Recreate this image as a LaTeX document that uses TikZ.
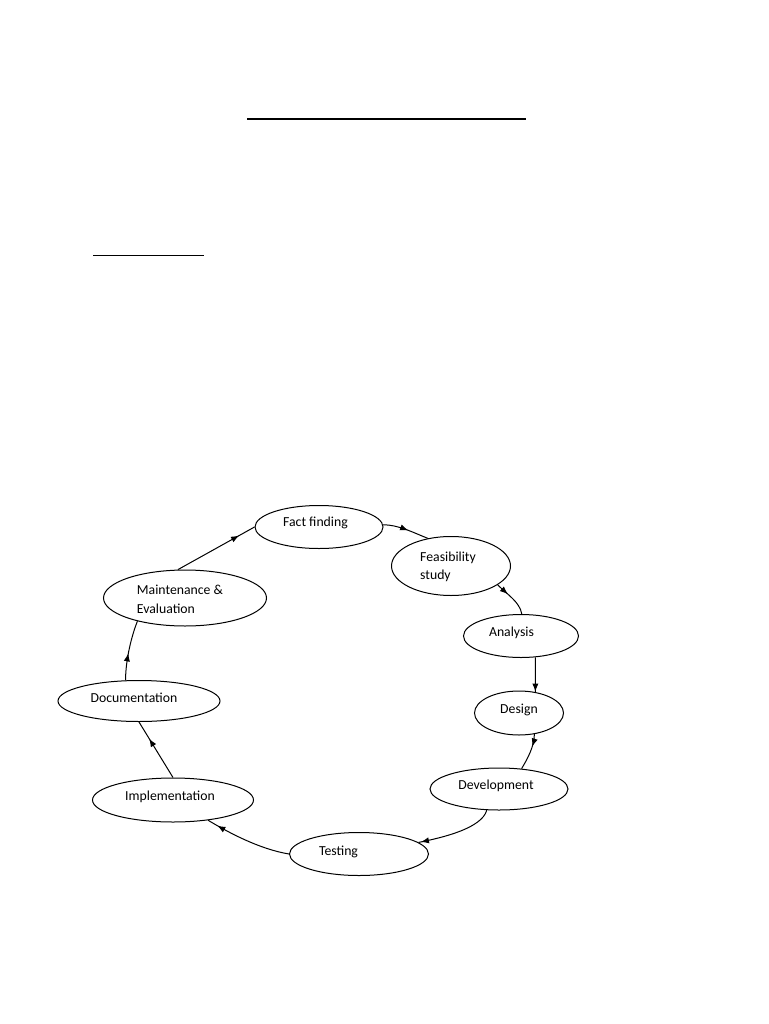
\documentclass[tikz,border=0pt]{standalone}
\usepackage{fontspec}
\setmainfont{Carlito}
\usetikzlibrary{shapes,arrows.meta,decorations.markings}
\newcommand{\stagefont}{\fontsize{11pt}{14.8pt}\selectfont}

\begin{document}
\begin{tikzpicture}[x=0.8pt, y=-0.8pt,
    stage/.style ={ellipse, draw=black, line width=0.8pt, fill=white,
      inner sep=0pt},
    every label/.style ={font=\stagefont, align=left, inner sep=0pt},
    flowline/.style ={draw, line width=0.8pt, postaction={decorate},
      decoration={markings, mark=at position #1 with
        {\arrow{Latex[length=6.5pt, width=5pt]}}}}]
    \useasboundingbox (0,0) rectangle (768,1024);
    % underlines at the top of the page
    \draw [line width=2pt] (247,119) -- (526,119);
    \draw [line width=0.8pt] (93,255) -- (204,255);
    % the stages of the cycle, clockwise from the top
    \node [stage, minimum width=102.4pt, minimum height=34.4pt,
      label={[xshift=-2.8pt, yshift=3.2pt]center:Fact finding}] (fact) at (319,527) {};
    \node [stage, minimum width=95.2pt, minimum height=47.2pt,
      label={[xshift=-2.4pt, yshift=-0.8pt]center:Feasibility\\study}] (feas) at (451,566) {};
    \node [stage, minimum width=92pt, minimum height=34.4pt,
      label={[xshift=-7.6pt, yshift=2.4pt]center:Analysis}] (analysis) at (521,636) {};
    \node [stage, minimum width=71.2pt, minimum height=35.2pt,
      label={[yshift=2.4pt]center:Design}] (design) at (519,713) {};
    \node [stage, minimum width=110.4pt, minimum height=33.6pt,
      label={[xshift=-2.4pt, yshift=2.4pt]center:Development}] (devel) at (499,789) {};
    \node [stage, minimum width=111.2pt, minimum height=34.4pt,
      label={[xshift=-16.4pt, yshift=1.6pt]center:Testing}] (testing) at (359,854) {};
    \node [stage, minimum width=128.8pt, minimum height=35.2pt,
      label={[xshift=-2.4pt, yshift=2.4pt]center:Implementation}] (impl) at (173,800) {};
    \node [stage, minimum width=129.6pt, minimum height=32.8pt,
      label={[xshift=-4pt, yshift=2.4pt]center:Documentation}] (docu) at (139,701) {};
    \node [stage, minimum width=130.4pt, minimum height=44.8pt,
      label={[xshift=-4pt, yshift=-1.2pt]center:Maintenance \&\\Evaluation}] (maint) at (185,598) {};
    % connecting the stages
    \path [flowline=0.8] (maint.104) -- (fact.west);
    \path [flowline=0.55] (fact.2) .. controls +(15,0) and +(-15,-6) .. (feas.130);
    \path [flowline=0.36] (feas.-22) .. controls +(10,10) and +(-2,-12) .. (analysis.88);
    \path [flowline=0.99] (analysis.-56) -- (design.52);
    \path [flowline=0.34] (design.-54) .. controls +(0,12) and +(6,-10) .. (devel.42);
    \path [flowline=0.97] (devel.-120) .. controls +(-5,18) and +(25,-5) .. (testing.11);
    \path [flowline=0.88] (testing.west) .. controls +(-30,-5) and +(20,12) .. (impl.-30);
    \path [flowline=0.7] (impl.north) -- (docu.south);
    \path [flowline=0.45] (docu.123) .. controls +(0,-20) and +(-6,15) .. (maint.206);
  \end{tikzpicture}
\end{document}
